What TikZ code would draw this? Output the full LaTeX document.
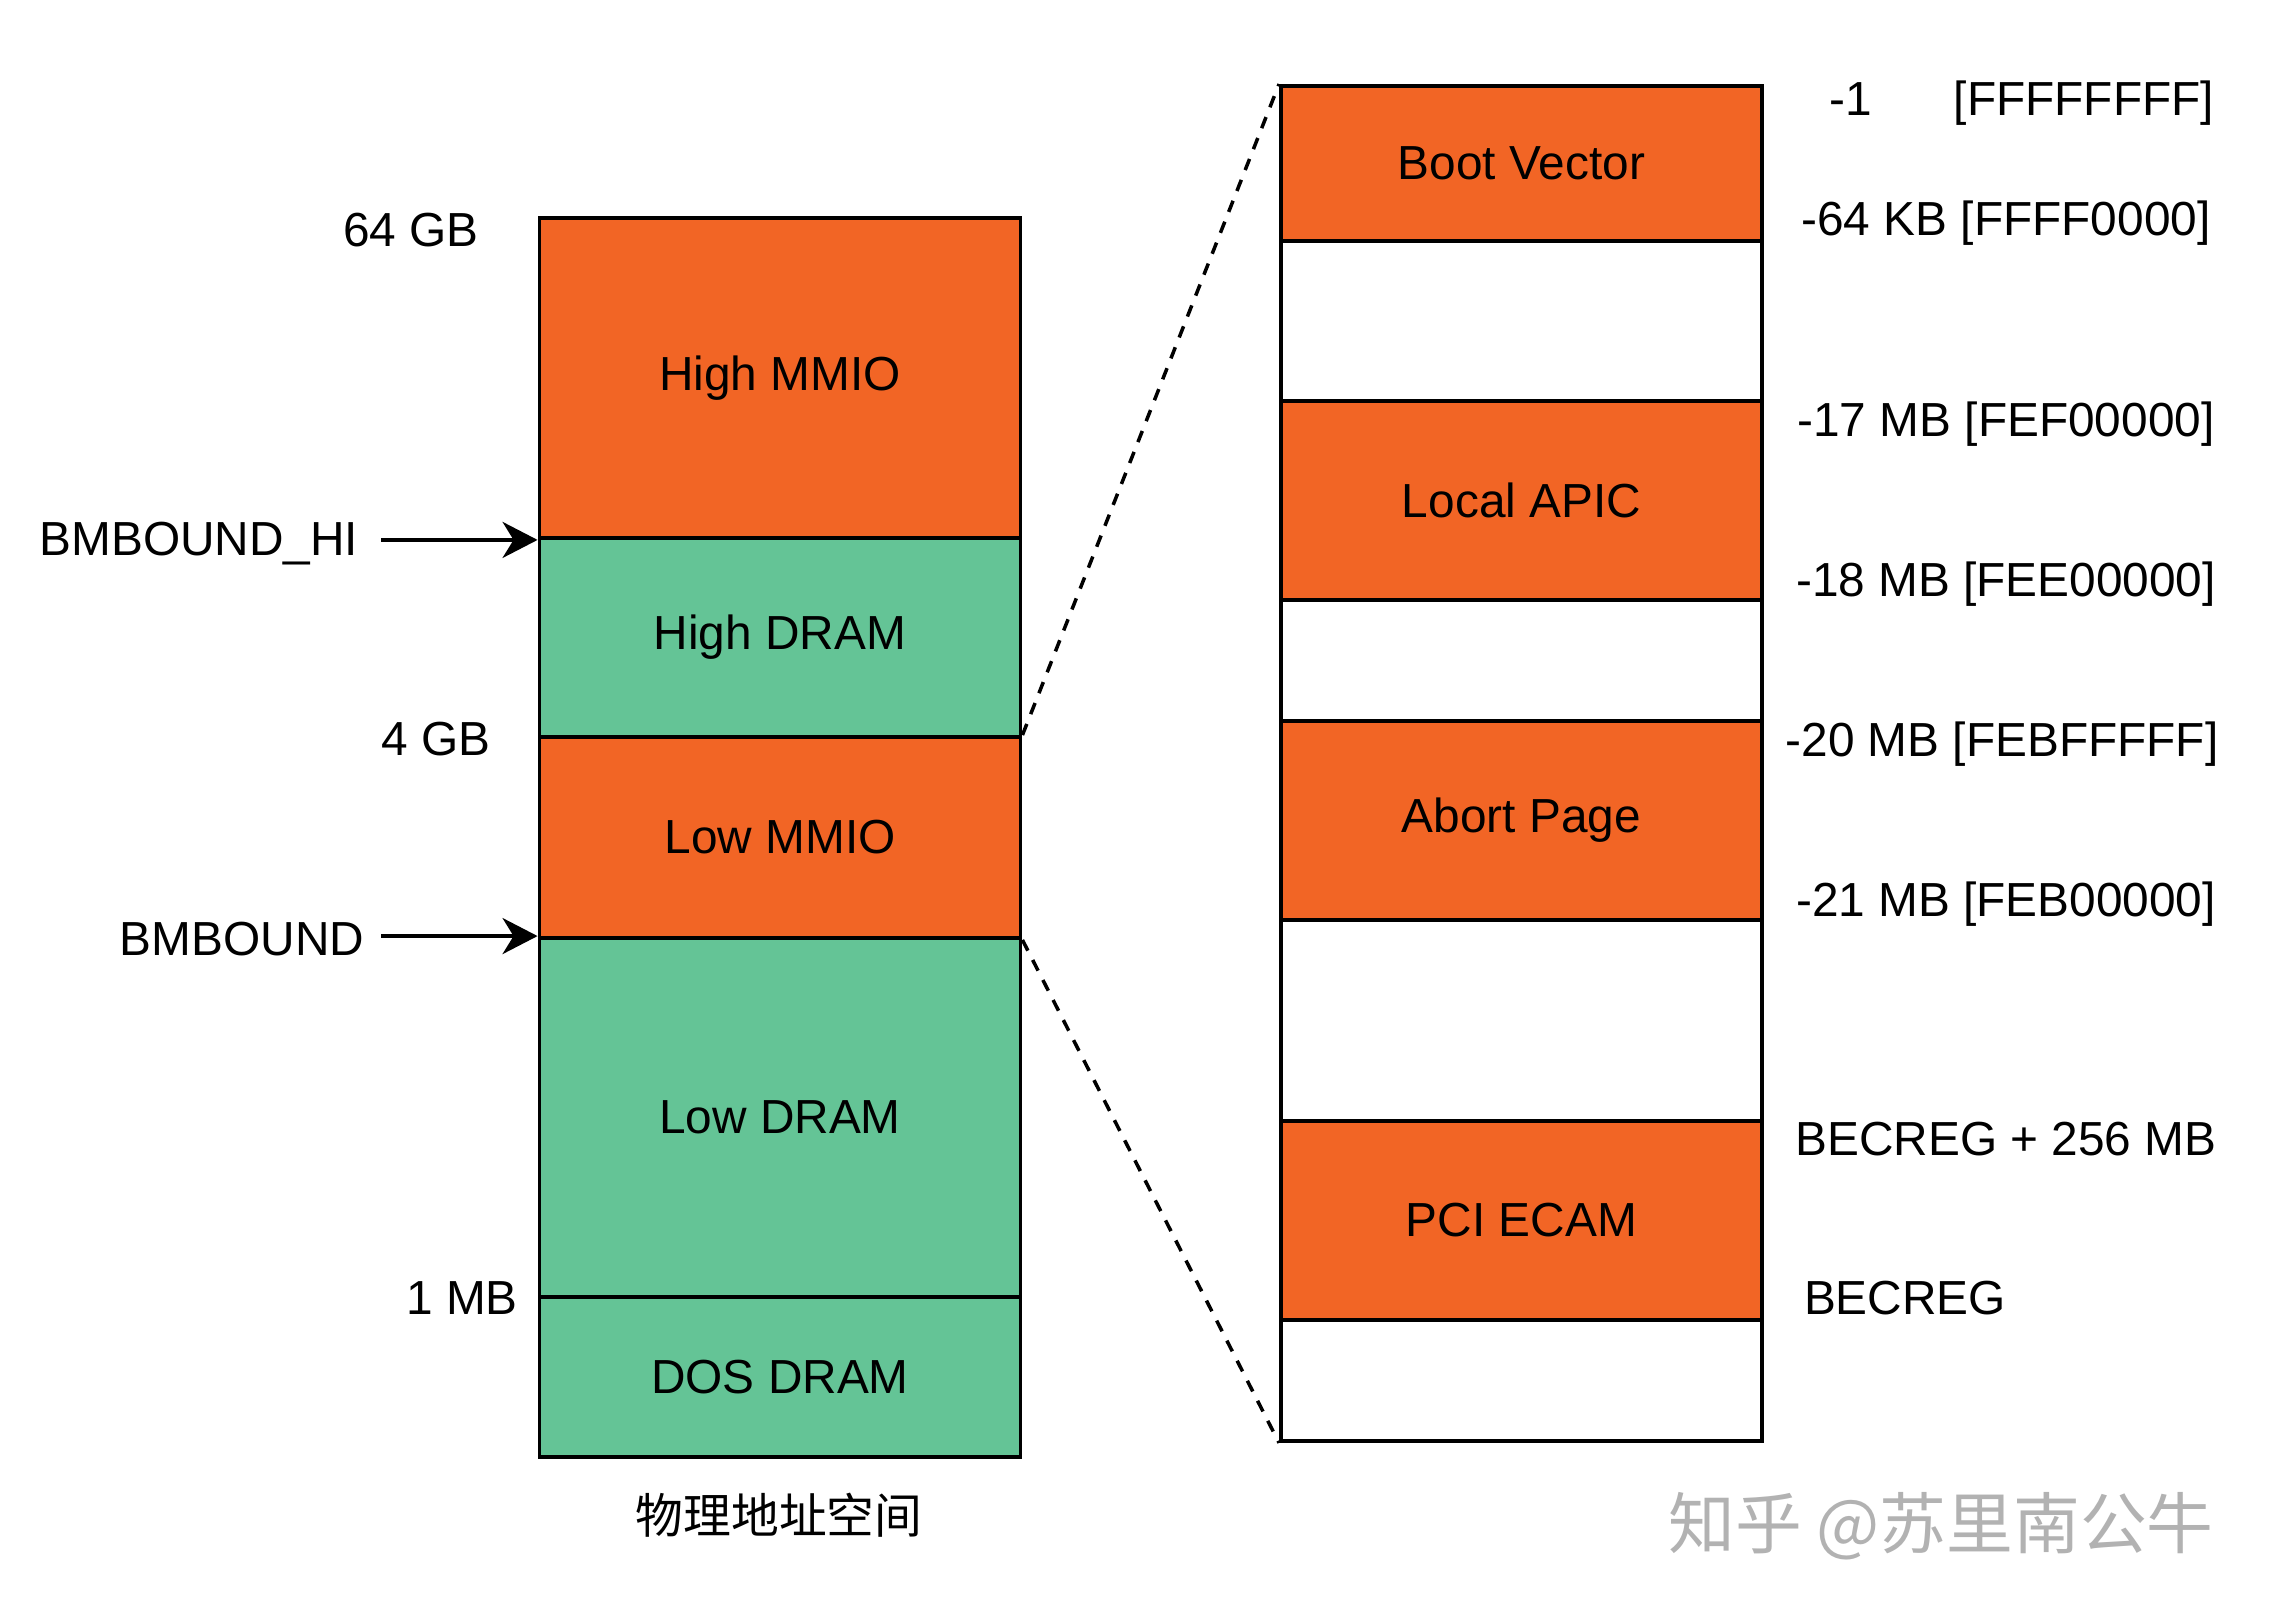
\documentclass[tikz,border=0pt]{standalone}
\usepackage{fontspec}
\setmainfont{Liberation Sans}
\newfontfamily\cjk{Noto Sans CJK SC}
\usetikzlibrary{arrows.meta}

\definecolor{mmio}{RGB}{242,101,37}
\definecolor{dram}{RGB}{100,196,150}

\tikzset{
  seg/.style={draw, line width=1.1pt, inner sep=0pt, minimum width=4.81cm},
  lbl/.style={inner sep=0pt},
  ptr/.style={line width=1.1pt, -{Stealth[length=3.5mm, width=3.6mm, inset=1.1mm]}},
  zoomline/.style={line width=1pt, dash pattern=on 3.4pt off 3pt}
}

\begin{document}
\begin{tikzpicture}[x=1cm, y=-1cm, font=\fontsize{13.6}{16}\selectfont]
\useasboundingbox (0,0) rectangle (22.8,16.2);

% physical address space
\node[seg, fill=mmio, minimum height=3.20cm] (himmio) at (7.80,3.78) {High MMIO};
\node[seg, fill=dram, minimum height=1.99cm] (hidram) at (7.80,6.375) {High DRAM};
\node[seg, fill=mmio, minimum height=2.01cm] (lommio) at (7.80,8.375) {Low MMIO};
\node[seg, fill=dram, minimum height=3.59cm] (lodram) at (7.80,11.175) {Low DRAM};
\node[seg, fill=dram, minimum height=1.60cm] (dosdram) at (7.80,13.77) {DOS DRAM};
\node[lbl] (title) at (7.79,15.15) {\cjk 物理地址空间};

\node[lbl] (gb64) at (4.11,2.30) {64 GB};
\node[lbl] (gb4) at (4.36,7.39) {4 GB};
\node[lbl] (mb1) at (4.62,12.98) {1 MB};
\node[lbl, anchor=east] (bmhi) at (3.59,5.44) {BMBOUND\_HI};
\node[lbl, anchor=east] (bm) at (3.65,9.39) {BMBOUND};
\draw[ptr] ([xshift=2.2mm]bmhi.east |- himmio.south west) -- (himmio.south west);
\draw[ptr] ([xshift=1.6mm]bm.east |- lodram.north west) -- (lodram.north west);

% low mmio detail
\node[seg, fill=mmio, minimum height=1.55cm] (boot) at (15.215,1.635) {Boot Vector};
\node[seg, fill=white, minimum height=1.60cm] (gapa) at (15.215,3.21) {};
\node[seg, fill=mmio, minimum height=1.99cm] (apic) at (15.215,5.005) {Local APIC};
\node[seg, fill=white, minimum height=1.21cm] (gapb) at (15.215,6.605) {};
\node[seg, fill=mmio, minimum height=1.99cm] (abort) at (15.215,8.205) {Abort Page};
\node[seg, fill=white, minimum height=2.01cm] (gapc) at (15.215,10.205) {};
\node[seg, fill=mmio, minimum height=1.99cm] (ecam) at (15.215,12.205) {PCI ECAM};
\node[seg, fill=white, minimum height=1.21cm] (gapd) at (15.215,13.805) {};

\draw[zoomline] (lommio.north east) -- (boot.north west);
\draw[zoomline] (lommio.south east) -- (gapd.south west);

\node[lbl, anchor=west] (top) at (18.29,0.99) {-1};
\node[lbl, anchor=west] (topx) at (19.53,1.03) {[FFFFFFFF]};
\node[lbl] (kb64) at (20.06,2.23) {-64 KB [FFFF0000]};
\node[lbl] (mb17) at (20.06,4.24) {-17 MB [FEF00000]};
\node[lbl] (mb18) at (20.06,5.84) {-18 MB [FEE00000]};
\node[lbl] (mb20) at (20.02,7.44) {-20 MB [FEBFFFFF]};
\node[lbl] (mb21) at (20.06,9.04) {-21 MB [FEB00000]};
\node[lbl] (ecamtop) at (20.06,11.39) {BECREG + 256 MB};
\node[lbl] (ecambase) at (19.05,12.98) {BECREG};

\node[lbl, text=black!30, font=\fontsize{19}{22}\selectfont] (mark) at (19.41,15.26) {\cjk 知乎 @苏里南公牛};
\end{tikzpicture}
\end{document}
